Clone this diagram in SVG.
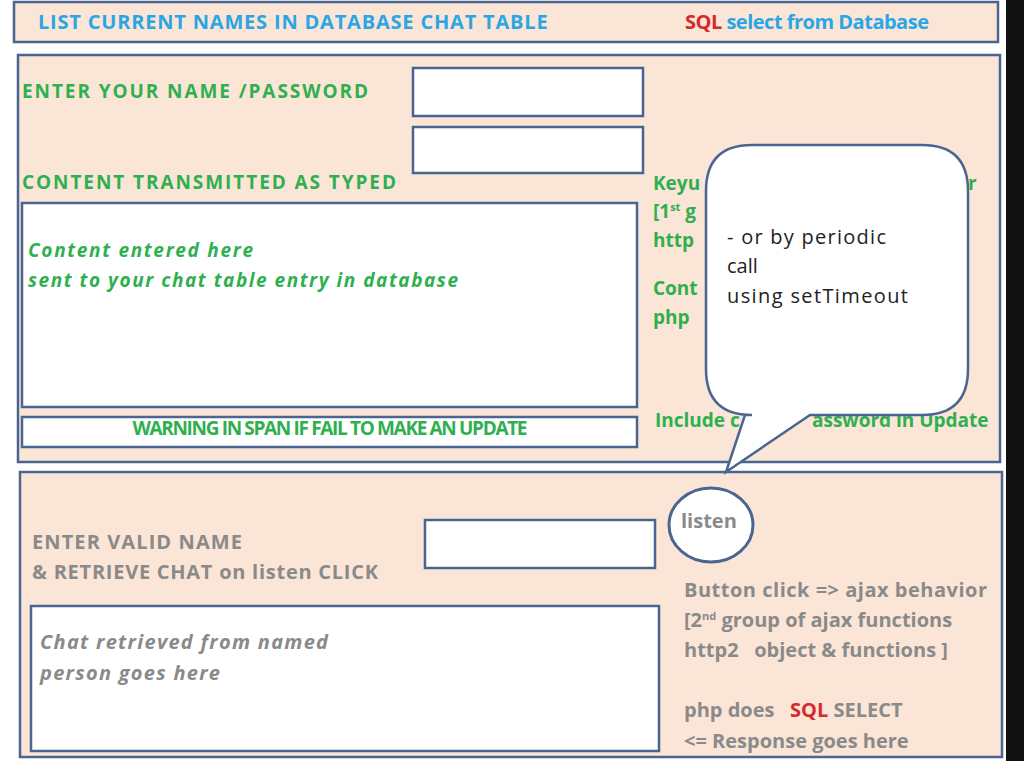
<svg xmlns="http://www.w3.org/2000/svg" width="1024" height="761" viewBox="0 0 1024 761">
<style>
.panel{fill:#fbe5d6;stroke:#4a6690;stroke-width:2.5}
.field{fill:#fff;stroke:#4a6690;stroke-width:2.5}
.g{font-family:"Open Sans","Liberation Sans",sans-serif;font-weight:bold;fill:#2fb050;font-size:19px}
.gr{font-family:"Open Sans","Liberation Sans",sans-serif;font-weight:bold;fill:#8a8a8a;font-size:20px}
.b{font-family:"Open Sans","Liberation Sans",sans-serif;font-weight:bold;fill:#2aa6e6;font-size:20px}
.r{fill:#d42a2a}
.k{font-family:"Open Sans","Liberation Sans",sans-serif;fill:#222;font-size:20px}
</style>
<rect width="1024" height="761" fill="#fff"/>
<rect x="1006" y="0" width="18" height="761" fill="#111"/>
<g id="top">
<rect class="panel" x="14" y="2" width="984" height="40"/>
<text class="b" x="38" y="29" letter-spacing="-0.6" textLength="509">LIST CURRENT NAMES IN DATABASE CHAT TABLE</text>
<text class="b" x="685" y="29" letter-spacing="-0.5"><tspan class="r">SQL</tspan> select from Database</text>
</g>
<g id="send">
<rect class="panel" x="18" y="55" width="982" height="407"/>
<text class="g" x="22" y="98" textLength="346">ENTER YOUR NAME /PASSWORD</text>
<rect class="field" x="413" y="68" width="230" height="48"/>
<rect class="field" x="413" y="127" width="230" height="46"/>
<text class="g" x="22" y="189" textLength="374">CONTENT TRANSMITTED AS  TYPED</text>
<rect class="field" x="22" y="203" width="615" height="204"/>
<text class="g" x="28" y="257" font-style="italic" textLength="225">Content entered here</text>
<text class="g" x="28" y="287" font-style="italic" textLength="430">sent to your chat table entry in database</text>
<rect class="field" x="22" y="417" width="615" height="30"/>
<text class="g" x="330" y="435" font-size="13" text-anchor="middle" textLength="395">WARNING IN SPAN IF FAIL TO MAKE  AN UPDATE</text>
<text class="g" x="653" y="190">Keyu</text>
<text class="g" x="968" y="190">r</text>
<text class="g" x="653" y="218">[1<tspan font-size="11" dy="-7">st</tspan><tspan dy="7"> g</tspan></text>
<text class="g" x="653" y="247">http</text>
<text class="g" x="653" y="295">Cont</text>
<text class="g" x="653" y="324">php</text>
<text class="g" x="655" y="427" font-size="18">Include c</text>
<text class="g" x="812" y="427" font-size="18">assword in Update</text>
</g>
<g id="receive">
<rect class="panel" x="20" y="472" width="982" height="285"/>
<text class="gr" x="32" y="549" textLength="210">ENTER VALID NAME</text>
<text class="gr" x="32" y="579" textLength="346">&amp; RETRIEVE CHAT on listen CLICK</text>
<rect class="field" x="425" y="520" width="230" height="48"/>
<rect class="field" x="31" y="606" width="628" height="145"/>
<text class="gr" x="40" y="649" font-style="italic" textLength="288">Chat retrieved from named</text>
<text class="gr" x="40" y="680" font-style="italic" textLength="180">person goes here</text>
<text class="gr" x="684" y="597" textLength="303">Button click =&gt; ajax behavior</text>
<text class="gr" x="684" y="627">[2<tspan font-size="11" dy="-7">nd</tspan><tspan dy="7"> group of ajax functions</tspan></text>
<text class="gr" x="684" y="657" xml:space="preserve">http2   object &amp; functions ]</text>
<text class="gr" x="684" y="717" xml:space="preserve">php does   <tspan class="r">SQL</tspan> SELECT</text>
<text class="gr" x="684" y="748">&lt;= Response goes here</text>
</g>
<g id="listen">
<ellipse cx="711" cy="525" rx="42" ry="37" fill="#fff" stroke="#4a6690" stroke-width="3"/>
<text class="gr" x="681" y="528" font-size="17" font-weight="normal">listen</text>
</g>
<g id="callout">
<path d="M752,145 H922 Q968,145 968,191 V369 Q968,415 922,415 H810 L726,472 L745,415 H752 Q706,415 706,369 V191 Q706,145 752,145 Z" fill="#fff" stroke="#4a6690" stroke-width="2.5"/>
<text class="k" x="727" y="244" textLength="159">- or by periodic</text>
<text class="k" x="727" y="273">call</text>
<text class="k" x="727" y="303" textLength="181">using setTimeout</text>
</g>
<g id="connectors"></g>
</svg>
